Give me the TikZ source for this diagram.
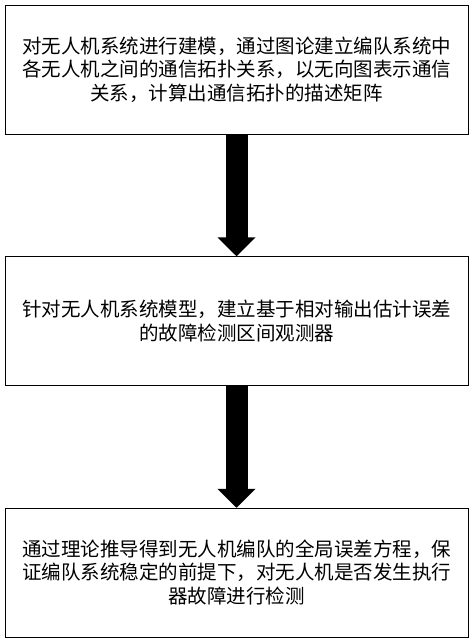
\documentclass[tikz,border=0pt]{standalone}
\usepackage{fontspec}
\setmainfont{Noto Sans CJK SC}
\usetikzlibrary{arrows.meta}

\tikzset{
    stepbox/.style={draw, thin, minimum width=463pt, minimum height=129pt, align=center,
        font=\fontsize{19.5}{23.5}\selectfont, inner sep=0pt},
    bigarrow/.style={line width=22pt, -{Triangle[width=37pt, length=19pt]}}
}

\begin{document}
\begin{tikzpicture}[x=1pt, y=-1pt]
        \useasboundingbox (0, 0) rectangle (474, 644);
        % Draw the three steps
        \node[stepbox] (model) at (236.5, 69.5) {对无人机系统进行建模，通过图论建立编队系统中\\各无人机之间的通信拓扑关系，以无向图表示通信\\关系，计算出通信拓扑的描述矩阵};
        \node[stepbox] (observer) at (236.5, 321) {针对无人机系统模型，建立基于相对输出估计误差\\的故障检测区间观测器};
        \node[stepbox] (detect) at (236.5, 572.5) {通过理论推导得到无人机编队的全局误差方程，保\\证编队系统稳定的前提下，对无人机是否发生执行\\器故障进行检测};

        % Draw the arrows between the steps
        \draw[bigarrow] (model) -- (observer);
        \draw[bigarrow] (observer) -- (detect);
    \end{tikzpicture}
\end{document}
